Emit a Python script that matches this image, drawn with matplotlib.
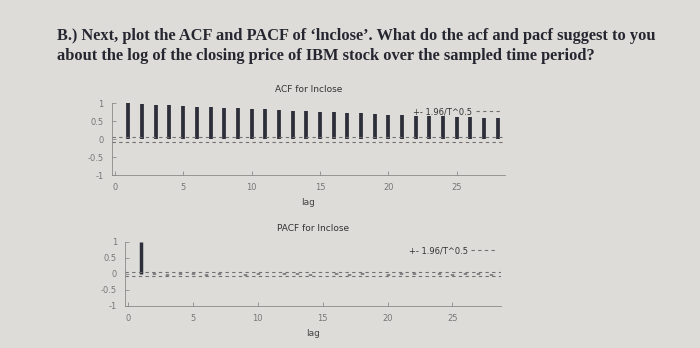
import numpy as np
import matplotlib
matplotlib.use("Agg")
import matplotlib.pyplot as plt

# values
lags = np.arange(1, 29)
acf = [0.99, 0.97, 0.95, 0.94, 0.92, 0.90, 0.89, 0.87, 0.85, 0.84,
       0.82, 0.80, 0.79, 0.77, 0.76, 0.75, 0.73, 0.71, 0.70, 0.68,
       0.67, 0.65, 0.64, 0.63, 0.61, 0.60, 0.58, 0.57]
pacf = [0.99, 0.02, -0.03, 0.02, 0.03, -0.02, 0.03, 0.01, -0.02, 0.02,
        -0.01, 0.03, 0.02, -0.02, 0.01, 0.02, -0.03, 0.03, 0.01, -0.02,
        0.02, 0.03, -0.01, 0.02, -0.02, 0.03, 0.02, -0.02]
band = 0.07  # 1.96/T^0.5
xticks = [0, 5, 10, 15, 20, 25]
yticks = [-1, -0.5, 0, 0.5, 1]
yticklabels = ["-1", "-0.5", "0", "0.5", "1"]

question = ("B.) Next, plot the ACF and PACF of \u2018lnclose\u2019. What do the acf and pacf suggest to you\n"
            "about the log of the closing price of IBM stock over the sampled time period?")

bg = "#dddcd9"
bar_col = "#2c2e3a"
axis_col = "#8a8a8a"

fig = plt.figure(figsize=(7, 3.48), dpi=100, facecolor=bg)
fig.text(0.081, 0.867, question, fontsize=11.8, fontweight="bold", family="Liberation Serif",
         color="#262630", va="center", ha="left", linespacing=1.3)


def corr_panel(rect, vals, title, xmax, lw):
    ax = fig.add_axes(rect)
    ax.set_facecolor(bg)
    ax.vlines(lags, 0, vals, color=bar_col, lw=lw)
    ax.axhline(band, color="#707070", lw=0.8, ls=(0, (3, 3)), label="+- 1.96/T^0.5")
    ax.axhline(-band, color="#707070", lw=0.8, ls=(0, (3, 3)))
    ax.set_xlim(-0.2, xmax)
    ax.set_ylim(-1, 1)
    ax.set_xticks(xticks)
    ax.set_yticks(yticks)
    ax.set_yticklabels(yticklabels)
    ax.tick_params(direction="in", length=3, width=0.6, colors=axis_col,
                   labelsize=6, labelcolor="#777777", pad=6)
    for s in ("top", "right"):
        ax.spines[s].set_visible(False)
    for s in ("left", "bottom"):
        ax.spines[s].set_color(axis_col)
        ax.spines[s].set_linewidth(0.6)
    ax.set_title(title, fontsize=6.5, color="#333333", pad=8)
    ax.set_xlabel("lag", fontsize=6.5, color="#444444", labelpad=4)
    ax.legend(loc="upper right", bbox_to_anchor=(1.0, 1.0), frameon=False, fontsize=6,
              markerfirst=False, handlelength=3, handletextpad=0.4, borderaxespad=0.1,
              labelcolor="#333333")
    return ax


corr_panel([0.160, 0.497, 0.561, 0.207], acf, "ACF for lnclose", 28.5, 2.7)
corr_panel([0.179, 0.121, 0.536, 0.184], pacf, "PACF for lnclose", 28.7, 2.5)

fig.savefig("out.png", dpi=100, facecolor=bg)
